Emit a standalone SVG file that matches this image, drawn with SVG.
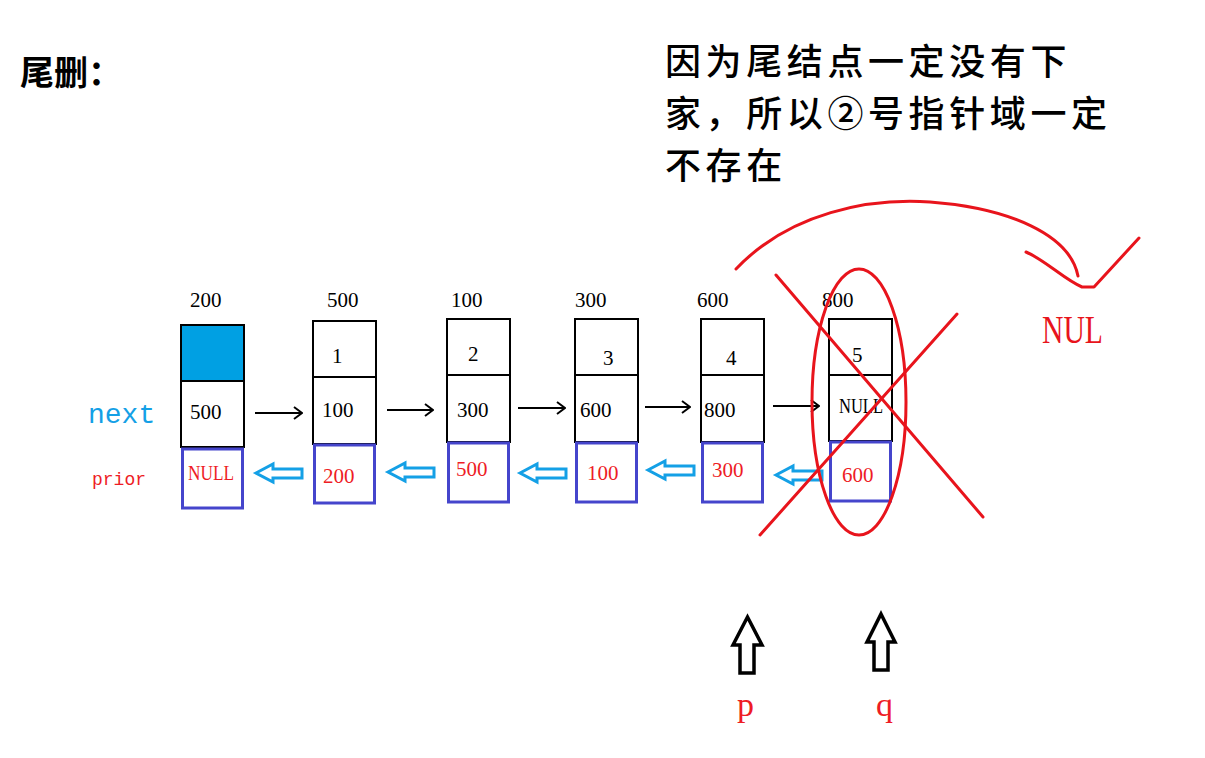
<svg xmlns="http://www.w3.org/2000/svg" width="1205" height="758" viewBox="0 0 1205 758">
<style>
.cjk{font-family:"Noto Sans CJK SC","Noto Sans CJK JP",sans-serif;fill:#000;}
.num{font-family:"Liberation Serif",serif;font-size:21px;fill:#000;}
.rnum{font-family:"Liberation Serif",serif;font-size:21px;fill:#ee1c25;}
.box{fill:#fff;stroke:#000;stroke-width:2;}
.pbox{fill:none;stroke:#4545cc;stroke-width:3;}
.red{fill:none;stroke:#e8141c;stroke-width:3;stroke-linecap:round;stroke-linejoin:round;}
.blk{fill:none;stroke:#000;stroke-width:2;}
.barr{fill:#fff;stroke:#14a0e6;stroke-width:3;stroke-linejoin:miter;}
.parr{fill:#fff;stroke:#000;stroke-width:3.5;stroke-linejoin:miter;}
</style>
<defs>
<marker id="open" viewBox="0 0 10 14" refX="9" refY="7" markerWidth="10" markerHeight="14" markerUnits="userSpaceOnUse" orient="auto">
<path d="M1,1 L9,7 L1,13" fill="none" stroke="#000" stroke-width="2"/>
</marker>
<path id="ba" d="M0,0 L17,-9 L17,-4 L46,-4 L46,5 L17,5 L17,9 Z"/>
</defs>
<rect width="1205" height="758" fill="#fff"/>

<text class="cjk" x="20" y="85" font-size="34" font-weight="bold">尾删：</text>
<g id="note">
<text class="cjk" x="665" y="75" font-size="36" font-weight="500" letter-spacing="4.6">因为尾结点一定没有下</text>
<text class="cjk" x="665" y="127" font-size="36" font-weight="500" letter-spacing="4.6">家，所以②号指针域一定</text>
<text class="cjk" x="665" y="179" font-size="36" font-weight="500" letter-spacing="4.6">不存在</text>
</g>

<text x="88" y="423" font-family="Liberation Mono,monospace" font-size="28" fill="#14a0e6">next</text>
<text x="92" y="485" font-family="Liberation Mono,monospace" font-size="18" fill="#ee1c25">prior</text>

<g id="n200">
<text class="num" x="190" y="307">200</text>
<rect x="181" y="325" width="63" height="56" fill="#00a0e3" stroke="#000" stroke-width="2"/>
<rect class="box" x="181" y="381" width="63" height="66"/>
<rect class="pbox" x="182.5" y="449" width="60" height="59"/>
<text class="num" x="190" y="419">500</text>
<text class="rnum" x="188" y="480" textLength="46" lengthAdjust="spacingAndGlyphs">NULL</text>
</g>
<g id="n500">
<text class="num" x="327" y="307">500</text>
<rect class="box" x="313" y="321" width="63" height="56"/>
<rect class="box" x="313" y="377" width="63" height="67"/>
<rect class="pbox" x="314.5" y="445" width="60" height="58"/>
<text class="num" x="332" y="363">1</text>
<text class="num" x="322" y="417">100</text>
<text class="rnum" x="323" y="483">200</text>
</g>
<g id="n100">
<text class="num" x="451" y="307">100</text>
<rect class="box" x="447" y="319" width="63" height="56"/>
<rect class="box" x="447" y="375" width="63" height="67"/>
<rect class="pbox" x="448.5" y="443" width="60" height="59"/>
<text class="num" x="468" y="361">2</text>
<text class="num" x="457" y="417">300</text>
<text class="rnum" x="456" y="476">500</text>
</g>
<g id="n300">
<text class="num" x="575" y="307">300</text>
<rect class="box" x="575" y="319" width="63" height="56"/>
<rect class="box" x="575" y="375" width="63" height="67"/>
<rect class="pbox" x="576.5" y="443" width="60" height="59"/>
<text class="num" x="603" y="365">3</text>
<text class="num" x="580" y="417">600</text>
<text class="rnum" x="587" y="480">100</text>
</g>
<g id="n600">
<text class="num" x="697" y="307">600</text>
<rect class="box" x="701" y="319" width="63" height="56"/>
<rect class="box" x="701" y="375" width="63" height="67"/>
<rect class="pbox" x="702.5" y="443" width="60" height="59"/>
<text class="num" x="726" y="365">4</text>
<text class="num" x="704" y="417">800</text>
<text class="rnum" x="712" y="477">300</text>
</g>
<g id="n800">
<text class="num" x="822" y="307">800</text>
<rect class="box" x="829" y="319" width="63" height="56"/>
<rect class="box" x="829" y="375" width="63" height="66"/>
<rect class="pbox" x="830.5" y="442" width="60" height="59"/>
<text class="num" x="852" y="362">5</text>
<text class="num" x="839" y="413" textLength="44" lengthAdjust="spacingAndGlyphs">NULL</text>
<text class="rnum" x="842" y="482">600</text>
</g>

<g id="connectors">
<line class="blk" x1="255" y1="413" x2="302" y2="413" marker-end="url(#open)"/>
<line class="blk" x1="387" y1="410" x2="433" y2="410" marker-end="url(#open)"/>
<line class="blk" x1="518" y1="408" x2="565" y2="408" marker-end="url(#open)"/>
<line class="blk" x1="645" y1="407" x2="690" y2="407" marker-end="url(#open)"/>
<line class="blk" x1="773" y1="406" x2="819" y2="406" marker-end="url(#open)"/>
<use href="#ba" class="barr" x="256" y="473"/>
<use href="#ba" class="barr" x="388" y="472"/>
<use href="#ba" class="barr" x="520" y="473"/>
<use href="#ba" class="barr" x="648" y="470"/>
<use href="#ba" class="barr" x="776" y="475"/>
</g>

<g id="marks">
<ellipse class="red" cx="859" cy="402" rx="47" ry="133"/>
<line class="red" x1="776" y1="275" x2="983" y2="517"/>
<line class="red" x1="957" y1="314" x2="760" y2="535"/>
<path class="red" d="M736,269 C790,212 870,198 930,202 C1010,208 1070,235 1078,276"/>
<path class="red" d="M1026,252 C1045,260 1065,280 1082,287 L1094,287 L1139,238"/>
<text x="1042" y="343" font-family="Liberation Serif,serif" font-size="39" fill="#e8141c" textLength="61" lengthAdjust="spacingAndGlyphs">NUL</text>
</g>

<g id="p">
<path class="parr" d="M747.5,617 L762,645 L754,645 L754,673 L740,673 L740,645 L733,645 Z"/>
<text x="737" y="716" font-family="Liberation Serif,serif" font-size="34" fill="#ee1c25">p</text>
</g>
<g id="q">
<path class="parr" d="M881,614 L895,642 L888,642 L888,670 L874,670 L874,642 L867,642 Z"/>
<text x="876" y="716" font-family="Liberation Serif,serif" font-size="34" fill="#ee1c25">q</text>
</g>
</svg>
